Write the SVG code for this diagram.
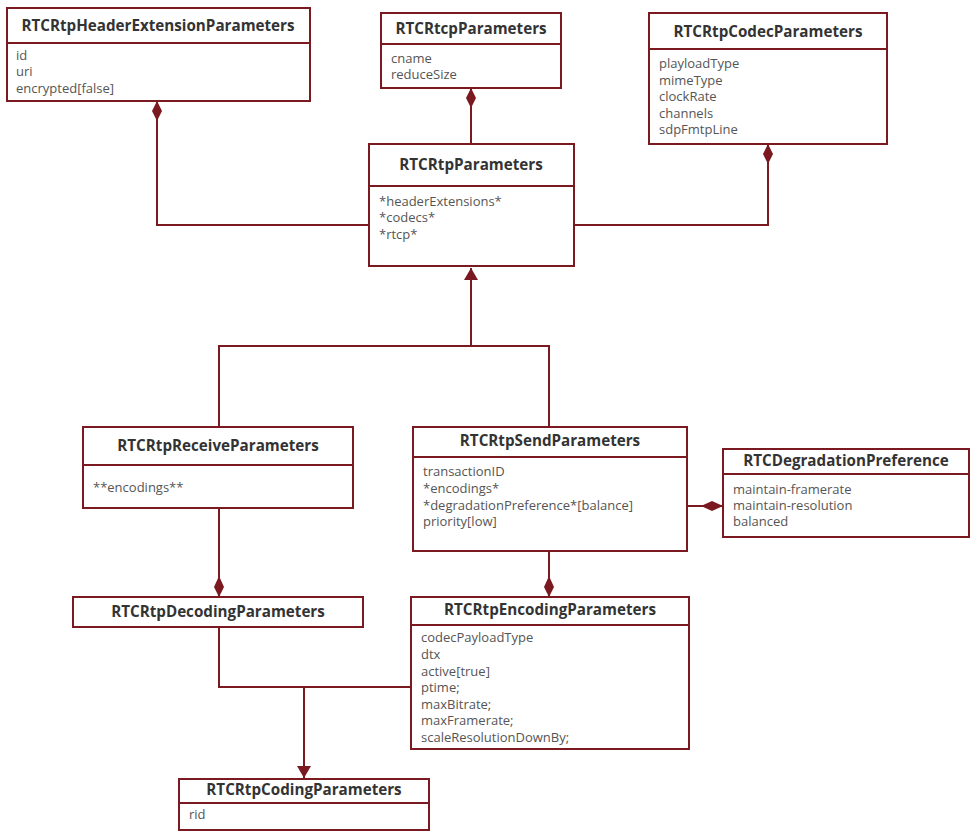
<svg xmlns="http://www.w3.org/2000/svg" width="979" height="837" viewBox="0 0 979 837">
<defs>
<style>
.box{fill:#fff;stroke:#7a1a20;stroke-width:2}
.div{stroke:#7a1a20;stroke-width:2}
.t{font-family:"Open Sans","Noto Sans",sans-serif;font-size:15.2px;font-weight:bold;fill:#333;text-anchor:middle}
.a{font-family:"Open Sans","Noto Sans",sans-serif;font-size:13px;fill:#555}
.c{fill:none;stroke:#7a1a20;stroke-width:2}
.d{fill:#7a1a20;stroke:none}
</style>
<marker id="tri" viewBox="0 0 12 14" refX="12" refY="7" markerWidth="12" markerHeight="14" markerUnits="userSpaceOnUse" orient="auto">
<path d="M0,0 L12,7 L0,14 z" fill="#7a1a20"/>
</marker>
</defs>
<rect width="979" height="837" fill="#fff"/>
<g id="connectors">
<path class="c" d="M157,101 V225 H369"/>
<path class="c" d="M471,88 V144"/>
<path class="c" d="M768,144 V225 H574"/>
<path class="d" d="M157,101 L162,111 L157,121 L152,111 z"/>
<path class="d" d="M471,88 L476,98 L471,108 L466,98 z"/>
<path class="d" d="M768,144 L773,154 L768,164 L763,154 z"/>
<path class="c" d="M219,427 V346 H549 V427"/>
<path class="c" d="M471,346 V268" marker-end="url(#tri)"/>
<path class="c" d="M219,508 V597"/>
<path class="d" d="M219,597 L224,587 L219,576 L214,587 z"/>
<path class="c" d="M549,551 V597"/>
<path class="d" d="M549,597 L554,587 L549,576 L544,587 z"/>
<path class="c" d="M687,506 H723"/>
<path class="d" d="M723,506 L712,511 L701,506 L712,501 z"/>
<path class="c" d="M219,627 V687 H411"/>
<path class="c" d="M304,687 V778" marker-end="url(#tri)"/>
</g>
<g id="hdrext">
<rect class="box" x="7" y="8" width="303" height="93"/>
<line class="div" x1="7" y1="43" x2="310" y2="43"/>
<text class="t" x="158" y="31">RTCRtpHeaderExtensionParameters</text>
<text class="a" x="16" y="60">id</text>
<text class="a" x="16" y="76">uri</text>
<text class="a" x="16" y="93">encrypted[false]</text>
</g>
<g id="rtcp">
<rect class="box" x="381" y="13" width="180" height="75"/>
<line class="div" x1="381" y1="44" x2="561" y2="44"/>
<text class="t" x="471" y="34">RTCRtcpParameters</text>
<text class="a" x="391" y="63">cname</text>
<text class="a" x="391" y="79">reduceSize</text>
</g>
<g id="codec">
<rect class="box" x="649" y="13" width="238" height="131"/>
<line class="div" x1="649" y1="49" x2="887" y2="49"/>
<text class="t" x="768" y="37">RTCRtpCodecParameters</text>
<text class="a" x="659" y="68">playloadType</text>
<text class="a" x="659" y="85">mimeType</text>
<text class="a" x="659" y="101">clockRate</text>
<text class="a" x="659" y="118">channels</text>
<text class="a" x="659" y="134">sdpFmtpLine</text>
</g>
<g id="rtp">
<rect class="box" x="369" y="144" width="205" height="122"/>
<line class="div" x1="369" y1="186" x2="574" y2="186"/>
<text class="t" x="471" y="170">RTCRtpParameters</text>
<text class="a" x="379" y="206">*headerExtensions*</text>
<text class="a" x="379" y="222">*codecs*</text>
<text class="a" x="379" y="239">*rtcp*</text>
</g>
<g id="receive">
<rect class="box" x="83" y="427" width="270" height="81"/>
<line class="div" x1="83" y1="465" x2="353" y2="465"/>
<text class="t" x="218" y="451">RTCRtpReceiveParameters</text>
<text class="a" x="93" y="492">**encodings**</text>
</g>
<g id="send">
<rect class="box" x="413" y="427" width="274" height="124"/>
<line class="div" x1="413" y1="457" x2="687" y2="457"/>
<text class="t" x="550" y="446">RTCRtpSendParameters</text>
<text class="a" x="423" y="476">transactionID</text>
<text class="a" x="423" y="493">*encodings*</text>
<text class="a" x="423" y="510">*degradationPreference*[balance]</text>
<text class="a" x="423" y="526">priority[low]</text>
</g>
<g id="degradation">
<rect class="box" x="723" y="449" width="246" height="88"/>
<line class="div" x1="723" y1="474" x2="969" y2="474"/>
<text class="t" x="846" y="466">RTCDegradationPreference</text>
<text class="a" x="733" y="494">maintain-framerate</text>
<text class="a" x="733" y="510">maintain-resolution</text>
<text class="a" x="733" y="526">balanced</text>
</g>
<g id="decoding">
<rect class="box" x="73" y="597" width="290" height="30"/>
<text class="t" x="218" y="617">RTCRtpDecodingParameters</text>
</g>
<g id="encoding">
<rect class="box" x="411" y="597" width="278" height="152"/>
<line class="div" x1="411" y1="625" x2="689" y2="625"/>
<text class="t" x="550" y="615">RTCRtpEncodingParameters</text>
<text class="a" x="421" y="642">codecPayloadType</text>
<text class="a" x="421" y="659">dtx</text>
<text class="a" x="421" y="676">active[true]</text>
<text class="a" x="421" y="692">ptime;</text>
<text class="a" x="421" y="709">maxBitrate;</text>
<text class="a" x="421" y="725">maxFramerate;</text>
<text class="a" x="421" y="742">scaleResolutionDownBy;</text>
</g>
<g id="coding">
<rect class="box" x="179" y="779" width="250" height="51"/>
<line class="div" x1="179" y1="803" x2="429" y2="803"/>
<text class="t" x="304" y="795">RTCRtpCodingParameters</text>
<text class="a" x="189" y="819">rid</text>
</g>
</svg>
